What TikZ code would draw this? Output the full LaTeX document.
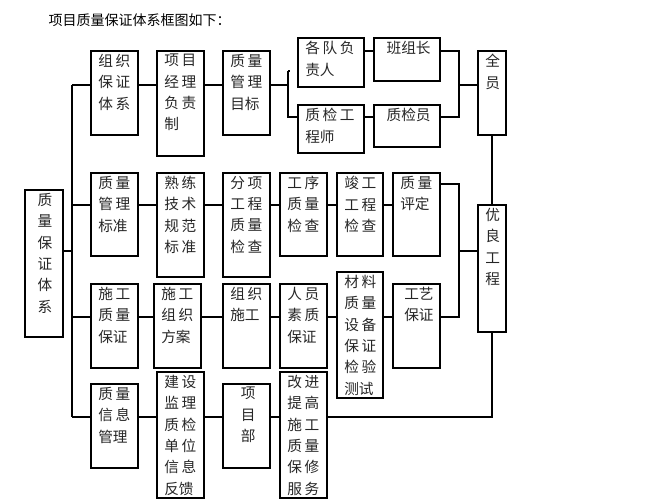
\documentclass[tikz,border=0pt]{standalone}
\usepackage{fontspec}
\newfontfamily\cjk{Noto Sans CJK SC}
\usetikzlibrary{positioning}

% box with text set from its top left corner
\newcommand{\bx}[6]{%
\node[box, minimum width={(#4-#2)*0.75pt}, minimum height={(#5-#3)*0.75pt}]
  (#1) at ({(#2+#4)/2},{(#3+#5)/2}) {};
\node[boxtext, anchor=north west] (#1t) at ({#2+7},{#3+3}) {#6};
}
\newcommand{\pr}[2]{#1\hspace{2pt}#2}

\begin{document}
\begin{tikzpicture}[x=0.75pt,y=-0.75pt,
  box/.style={draw, line width=0.8pt, inner sep=0pt},
  boxtext/.style={font=\cjk\fontsize{11pt}{16pt}\selectfont, align=left, inner sep=0pt, text=black!85},
  link/.style={line width=0.8pt}]

\useasboundingbox (0,0) rectangle (664,502);

\node[anchor=west, font=\cjk\fontsize{10.5pt}{12pt}\selectfont] (title) at (44,20) {项目质量保证体系框图如下：};

% left
\bx{sys}{25}{190}{63}{337}{\hspace{4pt}质\\\hspace{4pt}量\\\hspace{4pt}保\\\hspace{4pt}证\\\hspace{4pt}体\\\hspace{4pt}系}

% row 1
\bx{zz}{91}{51}{138}{135}{\pr{组}{织}\\\pr{保}{证}\\\pr{体}{系}}
\bx{xm}{157}{51}{204}{156}{\pr{项}{目}\\\pr{经}{理}\\\pr{负}{责}\\制}
\bx{mb}{223}{51}{270}{135}{\pr{质}{量}\\\pr{管}{理}\\目标}
\bx{gd}{298}{38}{364}{87}{\pr{各}{队}\hspace{2pt}负\\责人}
\bx{zj}{298}{105}{364}{153}{\pr{质}{检}\hspace{2pt}工\\程师}
\bx{bz}{374}{38}{440}{81}{\hspace{4pt}班组长}
\bx{zy}{374}{105}{440}{147}{\hspace{4pt}质检员}
\bx{qy}{478}{51}{506}{135}{全\\员}

% row 2
\bx{bzh}{91}{173}{138}{256}{\pr{质}{量}\\\pr{管}{理}\\标准}
\bx{sl}{157}{173}{204}{277}{\pr{熟}{练}\\\pr{技}{术}\\\pr{规}{范}\\\pr{标}{准}}
\bx{fx}{223}{173}{270}{277}{\pr{分}{项}\\\pr{工}{程}\\\pr{质}{量}\\\pr{检}{查}}
\bx{gx}{280}{173}{327}{256}{\pr{工}{序}\\\pr{质}{量}\\\pr{检}{查}}
\bx{jg}{337}{173}{383}{256}{\pr{竣}{工}\\\pr{工}{程}\\\pr{检}{查}}
\bx{pd}{393}{173}{440}{256}{\pr{质}{量}\\评定}
\bx{yl}{478}{205}{506}{332}{优\\良\\工\\程}

% row 3
\bx{sg}{91}{284}{138}{368}{\pr{施}{工}\\\pr{质}{量}\\保证}
\bx{fa}{154}{284}{201}{368}{\pr{施}{工}\\\pr{组}{织}\\方案}
\bx{zs}{223}{284}{270}{368}{\pr{组}{织}\\施工}
\bx{ry}{280}{284}{327}{368}{\pr{人}{员}\\\pr{素}{质}\\保证}
\bx{cl}{337}{272}{383}{398}{\pr{材}{料}\\\pr{质}{量}\\\pr{设}{备}\\\pr{保}{证}\\\pr{检}{验}\\测试}
\bx{gy}{393}{284}{440}{368}{\hspace{3pt}工艺\\\hspace{3pt}保证}

% row 4
\bx{xx}{91}{384}{138}{468}{\pr{质}{量}\\\pr{信}{息}\\管理}
\bx{jl}{157}{372}{204}{498}{\pr{建}{设}\\\pr{监}{理}\\\pr{质}{检}\\\pr{单}{位}\\\pr{信}{息}\\反馈}
\bx{xmb}{223}{384}{270}{468}{\hspace{8pt}项\\\hspace{8pt}目\\\hspace{8pt}部}
\bx{gj}{280}{372}{327}{498}{\pr{改}{进}\\\pr{提}{高}\\\pr{施}{工}\\\pr{质}{量}\\\pr{保}{修}\\\pr{服}{务}}

% connectors
\coordinate (r1) at (0,85);
\coordinate (r2) at (0,205);
\coordinate (r3) at (0,317);
\coordinate (r4) at (0,417);
\coordinate (tk) at (72,0);
\coordinate (sp) at (288,0);
\coordinate (bk) at (459,0);
\coordinate (vd) at (492,0);

\draw[link] (tk |- r1) -- (tk |- r4);
\draw[link] (sys.east |- 0,251) -- (tk |- 0,251);
\draw[link] (tk |- r1) -- (zz.west |- r1);
\draw[link] (tk |- r2) -- (bzh.west |- r2);
\draw[link] (tk |- r3) -- (sg.west |- r3);
\draw[link] (tk |- r4) -- (xx.west |- r4);

\draw[link] (zz.east |- r1) -- (xm.west |- r1);
\draw[link] (xm.east |- r1) -- (mb.west |- r1);
\draw[link] (mb.east |- r1) -- (sp |- r1);
\draw[link] (sp |- 0,71) -- (sp |- 0,117) -- (zj.west |- 0,117);
\draw[link] (sp |- 0,71) -- ++(2,0);
\draw[link] (gd.east |- 0,51) -- (bz.west |- 0,51);
\draw[link] (zj.east |- 0,117) -- (zy.west |- 0,117);
\draw[link] (bz.east |- 0,51) -- (bk |- 0,51) -- (bk |- 0,117) -- (zy.east |- 0,117);
\draw[link] (bk |- r1) -- (qy.west |- r1);
\draw[link] (qy.south -| vd) -- (yl.north -| vd);

\draw[link] (bzh.east |- r2) -- (sl.west |- r2);
\draw[link] (sl.east |- r2) -- (fx.west |- r2);
\draw[link] (fx.east |- r2) -- (gx.west |- r2);
\draw[link] (gx.east |- r2) -- (jg.west |- r2);
\draw[link] (jg.east |- r2) -- (pd.west |- r2);
\draw[link] (pd.east |- 0,184) -- (bk |- 0,184) -- (bk |- r3) -- (gy.east |- r3);
\draw[link] (bk |- 0,251) -- (yl.west |- 0,251);

\draw[link] (sg.east |- r3) -- (fa.west |- r3);
\draw[link] (fa.east |- r3) -- (zs.west |- r3);
\draw[link] (zs.east |- r3) -- (ry.west |- r3);
\draw[link] (ry.east |- r3) -- (cl.west |- r3);
\draw[link] (cl.east |- r3) -- (gy.west |- r3);

\draw[link] (xx.east |- r4) -- (jl.west |- r4);
\draw[link] (jl.east |- r4) -- (xmb.west |- r4);
\draw[link] (xmb.east |- r4) -- (gj.west |- r4);
\draw[link] (gj.east |- r4) -- (vd |- r4) -- (yl.south -| vd);

\end{tikzpicture}
\end{document}
